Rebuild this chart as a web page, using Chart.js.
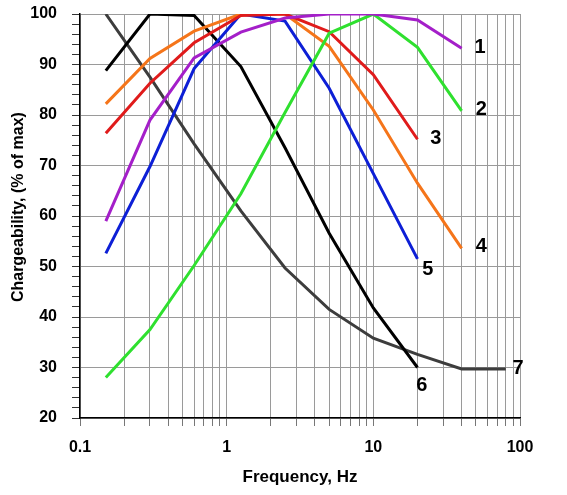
<!DOCTYPE html>
<html>
<head>
<meta charset="utf-8">
<script src="https://cdn.jsdelivr.net/npm/chart.js@4/dist/chart.umd.min.js"></script>
<style>
  html, body { margin: 0; padding: 0; background: #fff; }
  #wrap { width: 567px; height: 495px; }
</style>
</head>
<body>
<div id="wrap"><canvas id="chart" width="567" height="495"></canvas></div>
<script>
// Frequencies (Hz) where the curves were measured
const freqs = [0.15, 0.3, 0.6, 1.25, 2.5, 5, 10, 20, 40, 80];

// Chargeability (% of max) for each curve, null where the curve stops
const curve1 = [59, 79, 91.3, 96.4, 99.2, 100, 100, 98.8, 93.2, null];
const curve2 = [28, 37.5, 50.2, 64.4, 80.5, 96.2, 100, 93.4, 80.8, null];
const curve3 = [76.4, 86.3, 94.3, 99.7, 100, 96.5, 88, 75.2, null, null];
const curve4 = [82.2, 91.2, 96.6, 100, 100, 93.6, 81, 66.5, 53.6, null];
const curve5 = [52.6, 69.8, 89.2, 100, 98.6, 85.3, 68.4, 51.5, null, null];
const curve6 = [88.8, 100, 99.7, 89.6, 73.5, 56.6, 41.8, 30, null, null];
const curve7 = [100, 87.5, 74.3, 61, 49.7, 41.5, 35.8, 32.6, 29.7, 29.7];

// Curve number labels, anchored in data units
const curveNames = ['1', '2', '3', '4', '5', '6', '7'];
const nameFreq = [53.5, 54.5, 26.7, 54.5, 23.5, 21.4, 97];
const nameValue = [93.4, 81.1, 75.3, 54, 49.5, 26.4, 29.8];

// Tick values
const xTickValues = [0.1, 0.2, 0.3, 0.4, 0.5, 0.6, 0.7, 0.8, 0.9,
  1, 2, 3, 4, 5, 6, 7, 8, 9, 10, 20, 30, 40, 50, 60, 70, 80, 90, 100];
const yMin = 20, yMax = 100, yStep = 2;

const curves = [curve1, curve2, curve3, curve4, curve5, curve6, curve7];
const colors = ['#a41fc9', '#2fe02f', '#e01b1b', '#f5751a', '#0d1fd6', '#000000', '#3d3d3d'];

function toPoints(vals) {
  const pts = [];
  vals.forEach((v, i) => { if (v !== null) pts.push({ x: freqs[i], y: v }); });
  return pts;
}

// Draw the 1..7 labels beside the curves
const curveLabels = {
  id: 'curveLabels',
  afterDatasetsDraw(chart) {
    const ctx = chart.ctx;
    const xs = chart.scales.x, ys = chart.scales.y;
    ctx.save();
    ctx.font = 'bold 20px "Liberation Sans", Arial, sans-serif';
    ctx.fillStyle = '#000';
    ctx.textAlign = 'center';
    ctx.textBaseline = 'middle';
    curveNames.forEach((n, i) => {
      ctx.fillText(n, xs.getPixelForValue(nameFreq[i]), ys.getPixelForValue(nameValue[i]));
    });
    ctx.restore();
  }
};

const fontFamily = '"Liberation Sans", Arial, sans-serif';
const tickFont = { family: fontFamily, size: 16, weight: 'bold' };

new Chart(document.getElementById('chart'), {
  type: 'line',
  data: {
    datasets: curves.map((c, i) => ({
      label: curveNames[i],
      data: toPoints(c),
      borderColor: colors[i],
      backgroundColor: colors[i],
      borderWidth: 3,
      pointRadius: 0,
      tension: 0,
      fill: false
    }))
  },
  options: {
    responsive: false,
    animation: false,
    layout: { padding: { left: 0, right: 47, top: 14, bottom: 0 } },
    plugins: { legend: { display: false }, tooltip: { enabled: false } },
    scales: {
      x: {
        type: 'logarithmic',
        min: 0.1,
        max: 100,
        afterBuildTicks(scale) {
          scale.ticks = xTickValues.map(v => ({ value: v }));
        },
        afterFit(scale) {
          scale.height = 77;
          scale.paddingLeft = 0;
          scale.paddingRight = 0;
        },
        border: { color: '#000', width: 1.5 },
        grid: { color: '#9a9a9a', tickColor: '#777', tickLength: 8, lineWidth: 1 },
        ticks: {
          autoSkip: false,
          maxRotation: 0,
          padding: 12,
          color: '#000',
          font: tickFont,
          callback(v) {
            const l = Math.log10(v);
            return Math.abs(l - Math.round(l)) < 1e-9 ? String(v) : '';
          }
        },
        title: {
          display: true,
          text: 'Frequency, Hz',
          color: '#000',
          font: { family: fontFamily, size: 17, weight: 'bold' },
          padding: { top: 0, bottom: 7 }
        }
      },
      y: {
        min: yMin,
        max: yMax,
        afterFit(scale) {
          scale.width = 80;
          scale.paddingTop = 0;
          scale.paddingBottom = 0;
        },
        border: { color: '#000', width: 1.5 },
        grid: {
          color: c => (c.tick && c.tick.value % 10 === 0) ? '#9a9a9a' : 'rgba(0,0,0,0)',
          tickColor: '#333',
          tickLength: 8
        },
        ticks: {
          stepSize: yStep,
          autoSkip: false,
          padding: 15,
          color: '#000',
          font: tickFont,
          callback: v => (v % 10 === 0 ? v : '')
        },
        title: {
          display: true,
          text: '\u00a0\u00a0\u00a0\u00a0Chargeability, (% of max)',
          color: '#000',
          font: tickFont,
          padding: { top: 9, bottom: 0 }
        }
      }
    }
  },
  plugins: [curveLabels]
});
</script>
</body>
</html>
